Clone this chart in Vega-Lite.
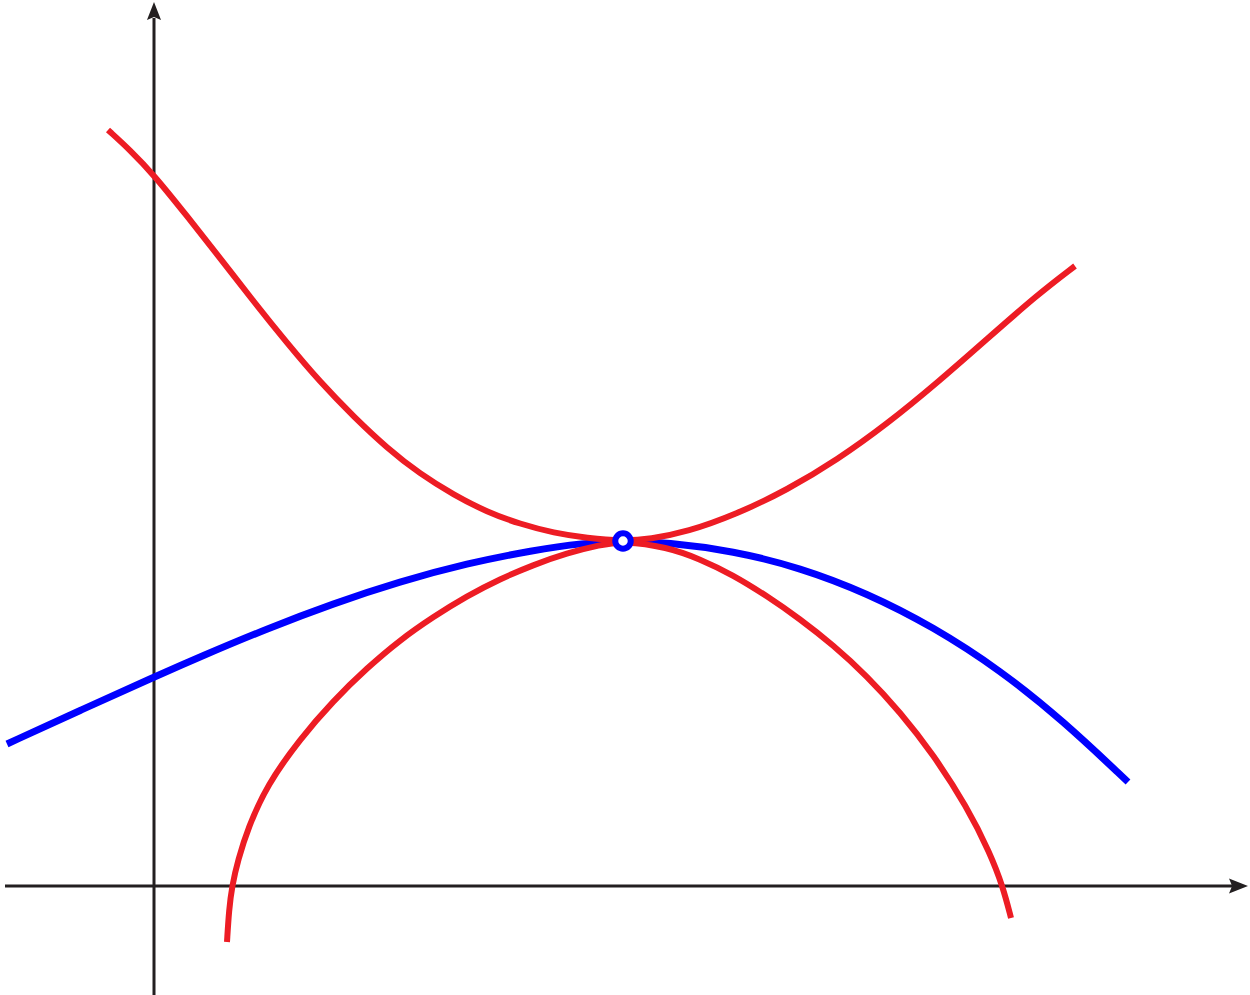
{
  "$schema": "https://vega.github.io/schema/vega-lite/v6.json",
  "autosize": "none",
  "padding": 0,
  "width": 1250,
  "height": 995,
  "background": "white",
  "config": {"view": {"stroke": null}},
  "datasets": {
    "axes": [
      {"x": -1.49, "x2": 10.78, "y": 0, "y2": 0},
      {"x": 0, "x2": 0, "y": -1.09, "y2": 8.68}
    ],
    "blue": [
      {"x": -1.47, "y": 1.42}, {"x": -0.74, "y": 1.756}, {"x": 0, "y": 2.089},
      {"x": 0.46, "y": 2.291}, {"x": 1.13, "y": 2.573}, {"x": 1.79, "y": 2.824},
      {"x": 2.46, "y": 3.045}, {"x": 3.13, "y": 3.226}, {"x": 3.79, "y": 3.358},
      {"x": 4.29, "y": 3.43}, {"x": 4.69, "y": 3.45}, {"x": 5.13, "y": 3.437},
      {"x": 5.79, "y": 3.351}, {"x": 6.46, "y": 3.184}, {"x": 7.13, "y": 2.929},
      {"x": 7.79, "y": 2.593}, {"x": 8.46, "y": 2.16}, {"x": 9.09, "y": 1.653},
      {"x": 9.74, "y": 1.04}
    ],
    "red": [
      {"curve": "upper", "x": -0.46, "y": 7.56}, {"curve": "upper", "x": -0.24, "y": 7.36},
      {"curve": "upper", "x": 0, "y": 7.11}, {"curve": "upper", "x": 0.33, "y": 6.7},
      {"curve": "upper", "x": 0.66, "y": 6.28}, {"curve": "upper", "x": 1.0, "y": 5.84},
      {"curve": "upper", "x": 1.33, "y": 5.43}, {"curve": "upper", "x": 1.66, "y": 5.04},
      {"curve": "upper", "x": 2.0, "y": 4.69}, {"curve": "upper", "x": 2.33, "y": 4.38},
      {"curve": "upper", "x": 2.66, "y": 4.12}, {"curve": "upper", "x": 3.0, "y": 3.91},
      {"curve": "upper", "x": 3.33, "y": 3.74}, {"curve": "upper", "x": 3.66, "y": 3.62},
      {"curve": "upper", "x": 4.0, "y": 3.53}, {"curve": "upper", "x": 4.33, "y": 3.48},
      {"curve": "upper", "x": 4.69, "y": 3.45}, {"curve": "upper", "x": 4.96, "y": 3.47},
      {"curve": "upper", "x": 5.33, "y": 3.54}, {"curve": "upper", "x": 5.83, "y": 3.72},
      {"curve": "upper", "x": 6.33, "y": 3.96}, {"curve": "upper", "x": 6.83, "y": 4.26},
      {"curve": "upper", "x": 7.33, "y": 4.62}, {"curve": "upper", "x": 7.83, "y": 5.03},
      {"curve": "upper", "x": 8.33, "y": 5.47}, {"curve": "upper", "x": 8.83, "y": 5.91},
      {"curve": "upper", "x": 9.21, "y": 6.2},
      {"curve": "lower", "x": 0.73, "y": -0.56}, {"curve": "lower", "x": 0.75, "y": -0.24},
      {"curve": "lower", "x": 0.78, "y": 0}, {"curve": "lower", "x": 0.84, "y": 0.26},
      {"curve": "lower", "x": 0.94, "y": 0.58}, {"curve": "lower", "x": 1.13, "y": 1.01},
      {"curve": "lower", "x": 1.46, "y": 1.47}, {"curve": "lower", "x": 1.79, "y": 1.85},
      {"curve": "lower", "x": 2.13, "y": 2.18}, {"curve": "lower", "x": 2.46, "y": 2.46},
      {"curve": "lower", "x": 2.79, "y": 2.69}, {"curve": "lower", "x": 3.13, "y": 2.9},
      {"curve": "lower", "x": 3.46, "y": 3.07}, {"curve": "lower", "x": 3.79, "y": 3.21},
      {"curve": "lower", "x": 4.13, "y": 3.33}, {"curve": "lower", "x": 4.46, "y": 3.41},
      {"curve": "lower", "x": 4.69, "y": 3.45}, {"curve": "lower", "x": 5.13, "y": 3.39},
      {"curve": "lower", "x": 5.46, "y": 3.27}, {"curve": "lower", "x": 5.79, "y": 3.11},
      {"curve": "lower", "x": 6.13, "y": 2.9}, {"curve": "lower", "x": 6.46, "y": 2.67},
      {"curve": "lower", "x": 6.79, "y": 2.41}, {"curve": "lower", "x": 7.13, "y": 2.1},
      {"curve": "lower", "x": 7.46, "y": 1.74}, {"curve": "lower", "x": 7.79, "y": 1.32},
      {"curve": "lower", "x": 8.13, "y": 0.79}, {"curve": "lower", "x": 8.36, "y": 0.33},
      {"curve": "lower", "x": 8.49, "y": -0.01}, {"curve": "lower", "x": 8.57, "y": -0.32}
    ],
    "touch": [{"x": 4.69, "y": 3.45}],
    "arrowUp": [{"x": 0, "y": 8.75}],
    "arrowRight": [{"x": 10.845, "y": 0}]
  },
  "encoding": {
    "x": {"field": "x", "type": "quantitative", "axis": null,
          "scale": {"domain": [-1.54, 10.96], "nice": false, "zero": false}},
    "y": {"field": "y", "type": "quantitative", "axis": null,
          "scale": {"domain": [-1.09, 8.86], "nice": false, "zero": false}}
  },
  "layer": [
    {
      "data": {"name": "axes"},
      "mark": {"type": "rule", "color": "#231f20", "strokeWidth": 3},
      "encoding": {"x2": {"field": "x2"}, "y2": {"field": "y2"}}
    },
    {
      "data": {"name": "arrowUp"},
      "mark": {"type": "point", "filled": true, "color": "#231f20", "opacity": 1, "size": 324,
               "shape": "M0,-1L0.78,1L0,0.67L-0.78,1Z"}
    },
    {
      "data": {"name": "arrowRight"},
      "mark": {"type": "point", "filled": true, "color": "#231f20", "opacity": 1, "size": 361,
               "shape": "M1,0L-1,0.78L-0.67,0L-1,-0.78Z"}
    },
    {
      "data": {"name": "blue"},
      "mark": {"type": "line", "color": "#0000ff", "strokeWidth": 7, "interpolate": "basis"}
    },
    {
      "data": {"name": "red"},
      "mark": {"type": "line", "color": "#ed1c24", "strokeWidth": 6, "interpolate": "basis"},
      "encoding": {"detail": {"field": "curve", "type": "nominal"}}
    },
    {
      "data": {"name": "touch"},
      "mark": {"type": "point", "shape": "circle", "size": 240, "strokeWidth": 6,
               "stroke": "#0000ff", "fill": "white", "filled": false, "opacity": 1, "fillOpacity": 1}
    }
  ]
}
